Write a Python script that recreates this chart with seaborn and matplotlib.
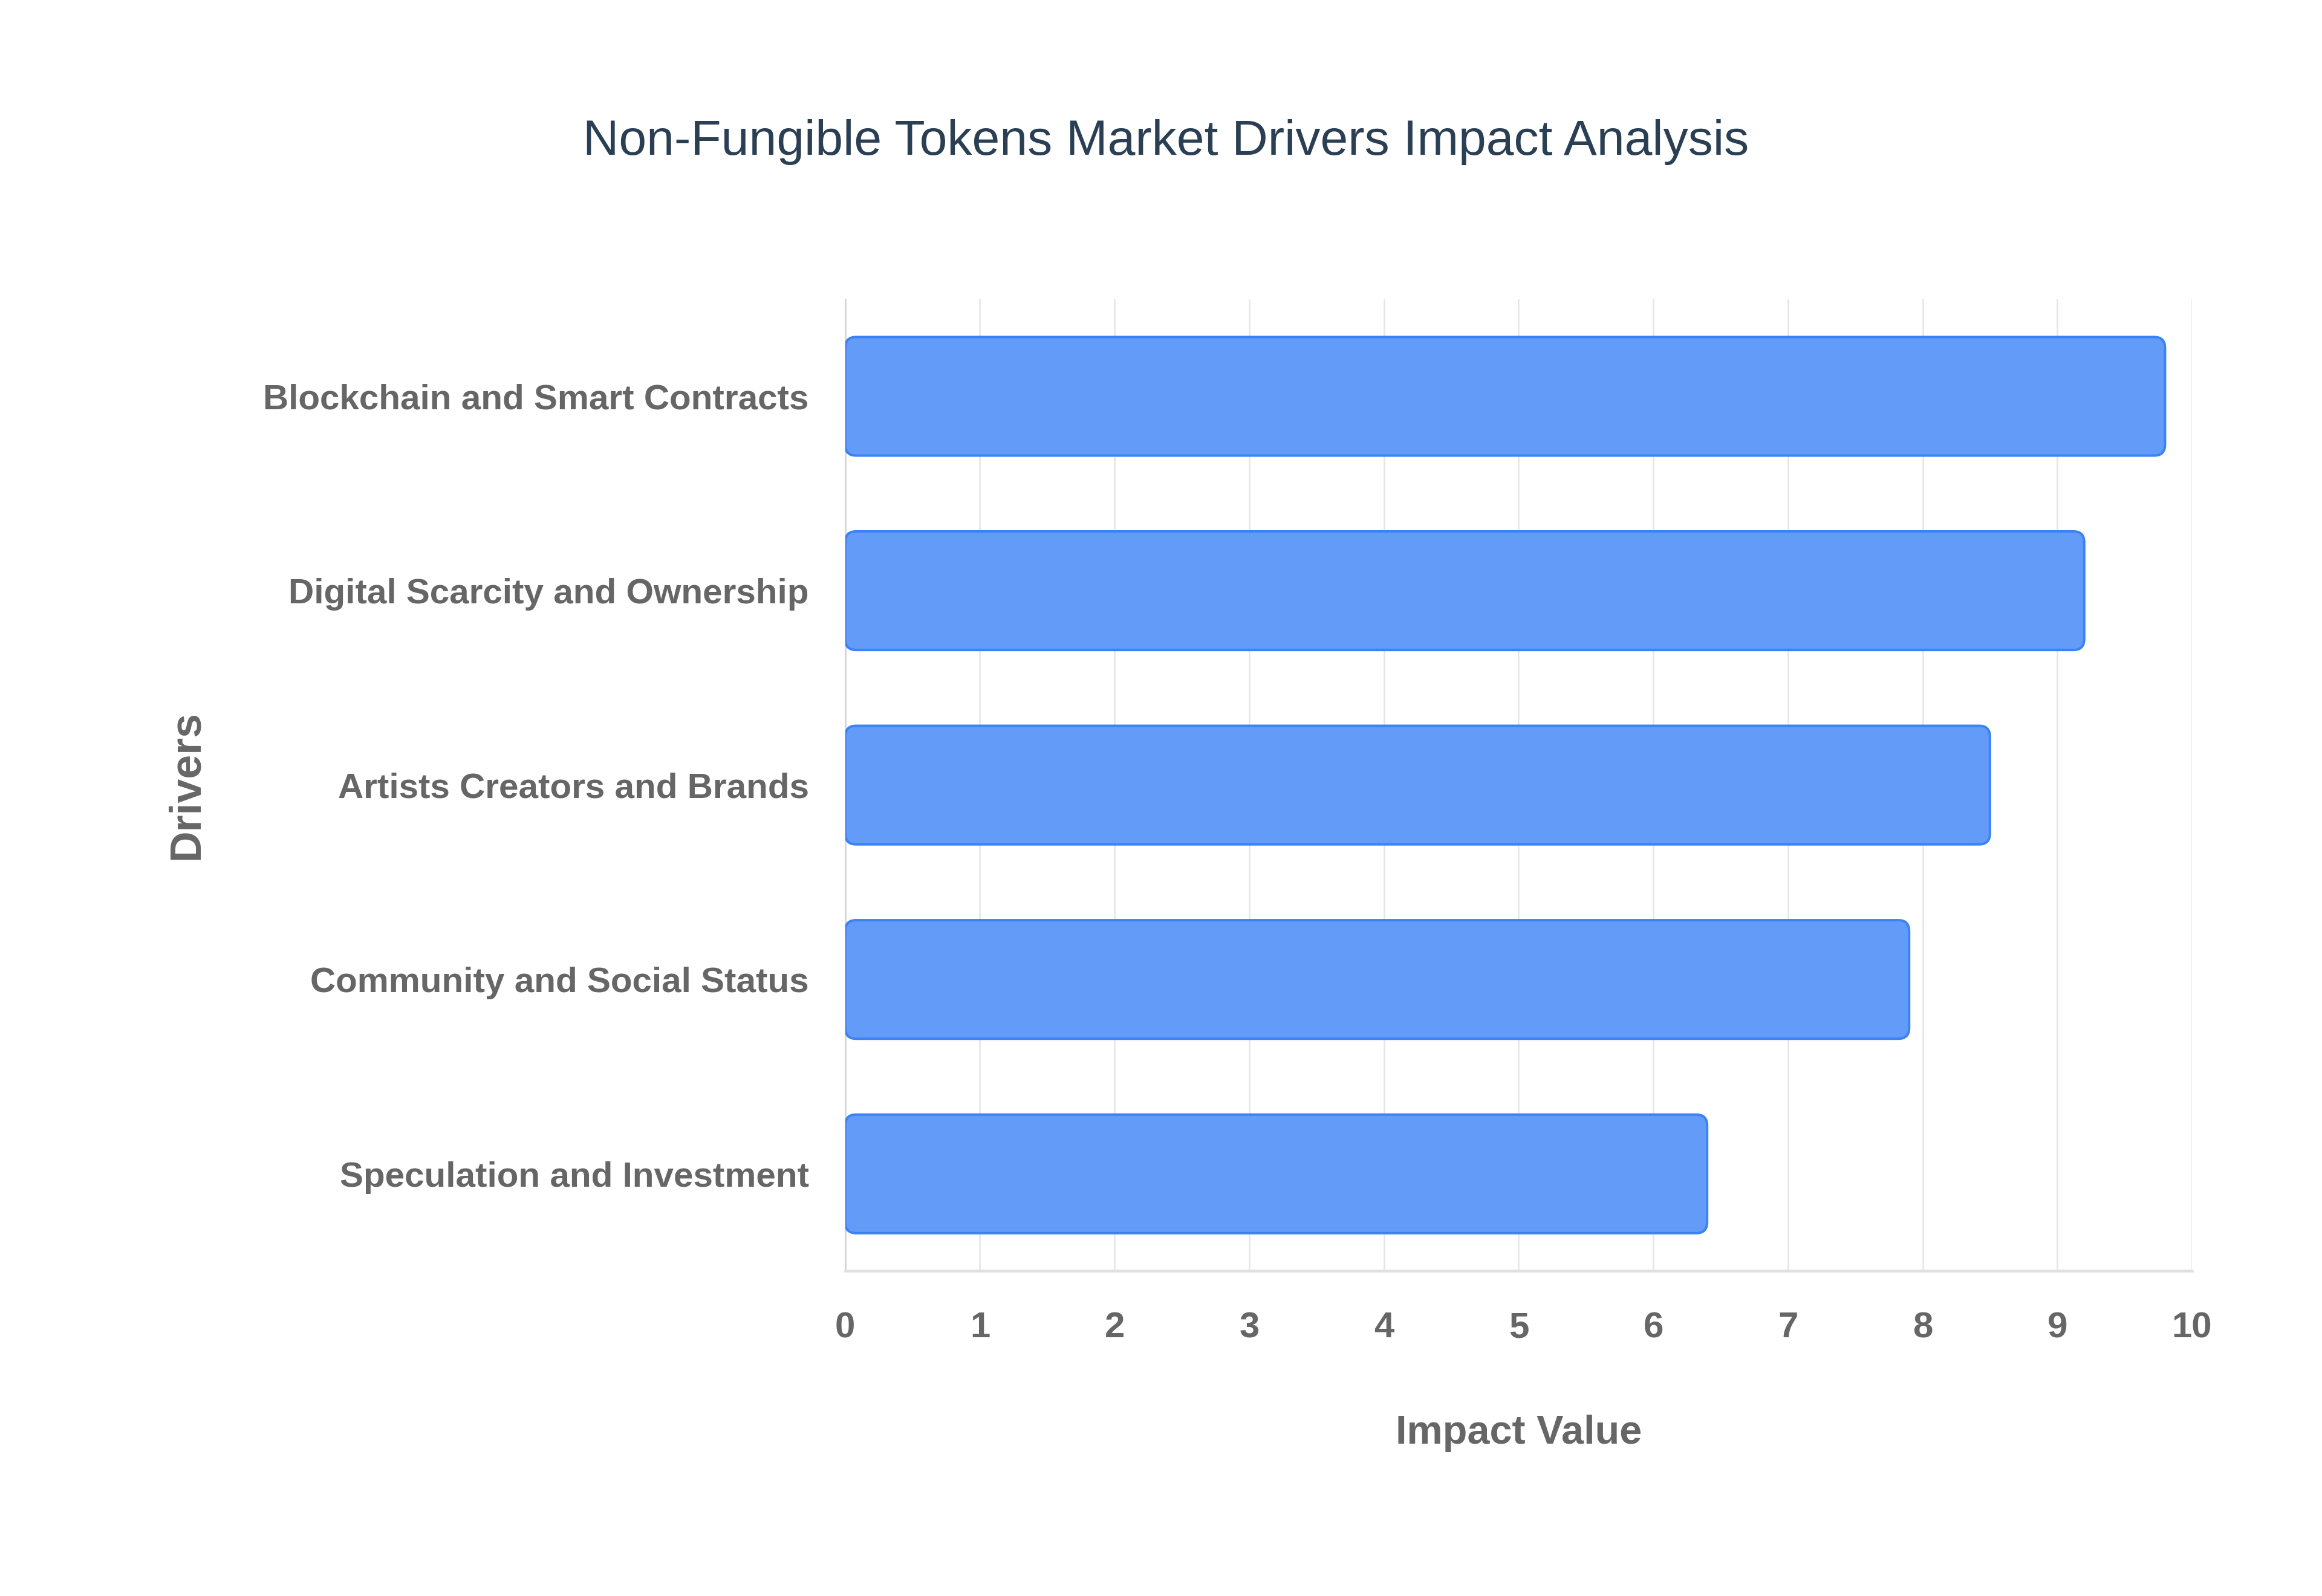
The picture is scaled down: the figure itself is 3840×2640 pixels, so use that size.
import pandas as pd
import matplotlib.pyplot as plt
import seaborn as sns
from matplotlib.patches import FancyBboxPatch

# data
drivers = ['Blockchain and Smart Contracts', 'Digital Scarcity and Ownership',
           'Artists Creators and Brands', 'Community and Social Status',
           'Speculation and Investment']
impact = [9.8, 9.2, 8.5, 7.9, 6.4]
x_ticks = list(range(0, 11))

df = pd.DataFrame({'driver': drivers, 'impact': impact})

sns.set_theme(style='white')
plt.rcParams['font.family'] = ['Liberation Sans', 'DejaVu Sans']

fig = plt.figure(figsize=(16, 11), dpi=240)
ax = fig.add_axes([0.364, 0.2036, 0.580, 0.609])

sns.barplot(data=df, x='impact', y='driver', orient='h', order=drivers,
            color='#629bf8', width=0.61, ax=ax, zorder=3)

# rounded bars, keep the geometry seaborn computed
for p in list(ax.patches):
    x0, y0, w, h = p.get_x(), p.get_y(), p.get_width(), p.get_height()
    p.remove()
    ax.add_patch(FancyBboxPatch((x0, y0), w, h,
                                boxstyle='round,pad=0,rounding_size=0.08',
                                mutation_aspect=0.7,
                                facecolor='#629bf8', edgecolor='#3b82f6',
                                linewidth=1.2, zorder=3))

ax.set_xlim(0, 10)
ax.set_ylim(4.5, -0.5)
ax.set_xticks(x_ticks)
ax.grid(axis='x', color='#e6e6e6', linewidth=0.8, zorder=0)
ax.grid(axis='y', visible=False)

for s in ['top', 'right']:
    ax.spines[s].set_visible(False)
ax.spines['left'].set_color('#d6d6d6')
ax.spines['left'].set_linewidth(0.9)
ax.spines['bottom'].set_color('#e0e0e0')
ax.spines['bottom'].set_linewidth(1.4)

ax.tick_params(axis='x', length=6, width=0.8, color='#e6e6e6', pad=14,
               labelsize=18, labelcolor='#666666')
ax.tick_params(axis='y', length=0, pad=18, labelsize=17.5, labelcolor='#666666')
for lab in ax.get_xticklabels() + ax.get_yticklabels():
    lab.set_fontweight('bold')

ax.set_xlabel('Impact Value', fontsize=20, fontweight='bold', color='#666666')
ax.set_ylabel('Drivers', fontsize=21.5, fontweight='bold', color='#666666')
ax.xaxis.set_label_coords(0.5, -0.167)
ax.xaxis.label.set_va('center')
ax.yaxis.set_label_coords(-0.489, 0.5)
ax.yaxis.label.set_va('center')

fig.suptitle('Non-Fungible Tokens Market Drivers Impact Analysis',
             x=0.502, y=0.911, va='center', fontsize=24.7, color='#2a3f54',
             family=['Liberation Sans', 'DejaVu Sans'])

fig.savefig('out.png', dpi=240, facecolor='white')
